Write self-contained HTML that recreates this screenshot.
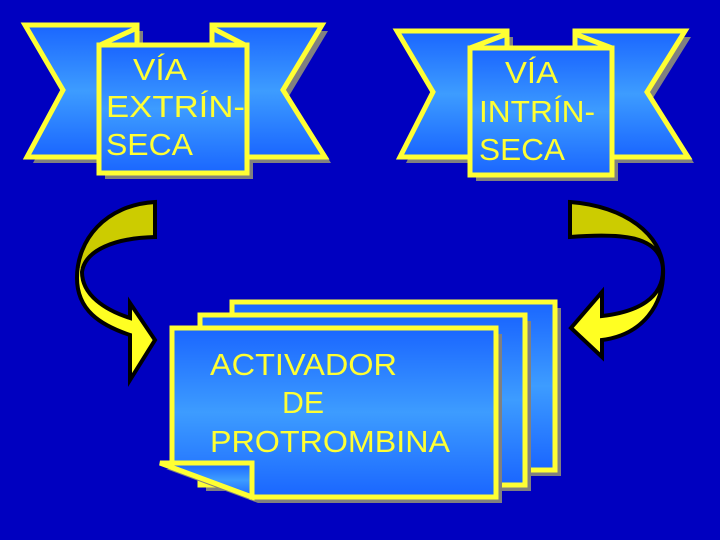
<!DOCTYPE html>
<html><head><meta charset="utf-8"><style>
html,body{margin:0;padding:0;background:#0000c0;}
svg{display:block}
text{font-family:"Liberation Sans",Arial,sans-serif;fill:#ffff33;font-size:31px}
</style></head><body>
<svg width="720" height="540" viewBox="0 0 720 540" xmlns="http://www.w3.org/2000/svg">
<defs>
<linearGradient id="g" x1="0" y1="0" x2="0" y2="1">
<stop offset="0" stop-color="#1a66ff"/><stop offset="0.5" stop-color="#3d9cff"/><stop offset="1" stop-color="#1a66ff"/>
</linearGradient>
<clipPath id="top"><rect x="0" y="0" width="720" height="268"/></clipPath>
</defs>
<rect width="720" height="540" fill="#0000c0"/>

<g fill="#808080" transform="translate(6,6)">
<polygon points="25,25 137,25 137,157 27,157 63,90"/>
<polygon points="212,25 322,25 283,90 325,157 212,157"/>
<rect x="99" y="45" width="148" height="128"/>
</g>
<g stroke="#ffff33" stroke-width="5" fill="url(#g)" stroke-linejoin="miter">
<polygon points="25,25 137,25 137,157 27,157 63,90"/>
<polygon points="212,25 322,25 283,90 325,157 212,157"/>
<polyline points="100,45 137,28" fill="none"/>
<polyline points="245,45 212,28" fill="none"/>
<rect x="99" y="45" width="148" height="128"/>
</g>
<text x="133" y="80" textLength="54" lengthAdjust="spacingAndGlyphs">VÍA</text>
<text x="106" y="117" textLength="139" lengthAdjust="spacingAndGlyphs">EXTRÍN-</text>
<text x="106" y="155" textLength="87" lengthAdjust="spacingAndGlyphs">SECA</text>

<g fill="#808080" transform="translate(6,6)">
<polygon points="397,31 507,31 507,157 400,157 433,92"/>
<polygon points="575,31 685,31 647,92 688,157 575,157"/>
<rect x="470" y="48" width="142" height="127"/>
</g>
<g stroke="#ffff33" stroke-width="5" fill="url(#g)">
<polygon points="397,31 507,31 507,157 400,157 433,92"/>
<polygon points="575,31 685,31 647,92 688,157 575,157"/>
<polyline points="470,48 507,34" fill="none"/>
<polyline points="612,48 575,34" fill="none"/>
<rect x="470" y="48" width="142" height="127"/>
</g>
<text x="505" y="83" textLength="53" lengthAdjust="spacingAndGlyphs">VÍA</text>
<text x="479" y="122" textLength="116" lengthAdjust="spacingAndGlyphs">INTRÍN-</text>
<text x="479" y="160" textLength="86" lengthAdjust="spacingAndGlyphs">SECA</text>

<path d="M155,202 C105,205 77,240 77,278 C77,310 100,325 130,335 L130,380 L155,340 L130,303 L130,318 C105,310 82,295 82,272 C85,250 115,238 155,237 Z" fill="#ffff22"/>
<path d="M155,202 C105,205 77,240 77,278 C77,310 100,325 130,335 L130,380 L155,340 L130,303 L130,318 C105,310 82,295 82,272 C85,250 115,238 155,237 Z" fill="#cccc00" clip-path="url(#top)"/>
<path d="M155,202 C105,205 77,240 77,278 C77,310 100,325 130,335 L130,380 L155,340 L130,303 L130,318 C105,310 82,295 82,272 C85,250 115,238 155,237 Z" fill="none" stroke="#000" stroke-width="4"/>

<path d="M570,202 C625,206 663,235 663,270 C663,298 638,312 602,316 L602,292 L571,328 L602,357 L602,340 C642,335 665,305 663,268 C660,235 620,233 570,237 Z" fill="#ffff22"/>
<path d="M570,202 C625,206 663,235 663,270 C663,298 638,312 602,316 L602,292 L571,328 L602,357 L602,340 C642,335 665,305 663,268 C660,235 620,233 570,237 Z" fill="#cccc00" clip-path="url(#top)"/>
<path d="M570,202 C625,206 663,235 663,270 C663,298 638,312 602,316 L602,292 L571,328 L602,357 L602,340 C642,335 665,305 663,268 C660,235 620,233 570,237 Z" fill="none" stroke="#000" stroke-width="4"/>

<rect x="238" y="308" width="323" height="168" fill="#808080"/>
<rect x="232" y="302" width="323" height="168" fill="url(#g)" stroke="#ffff33" stroke-width="5"/>
<rect x="206" y="321" width="325" height="170" fill="#808080"/>
<rect x="200" y="315" width="325" height="170" fill="url(#g)" stroke="#ffff33" stroke-width="5"/>
<polygon points="178,334 502,334 502,503 258,503 166,469 178,469" fill="#808080"/>
<polygon points="172,328 496,328 496,497 252,497 252,463 172,463" fill="url(#g)" stroke="#ffff33" stroke-width="5"/>
<polygon points="160,463 252,463 252,497" fill="url(#g)" stroke="#ffff33" stroke-width="5"/>
<text x="210" y="375" textLength="187" lengthAdjust="spacingAndGlyphs">ACTIVADOR</text>
<text x="282" y="413" textLength="42" lengthAdjust="spacingAndGlyphs">DE</text>
<text x="210" y="452" textLength="240" lengthAdjust="spacingAndGlyphs">PROTROMBINA</text>
</svg>
</body></html>
